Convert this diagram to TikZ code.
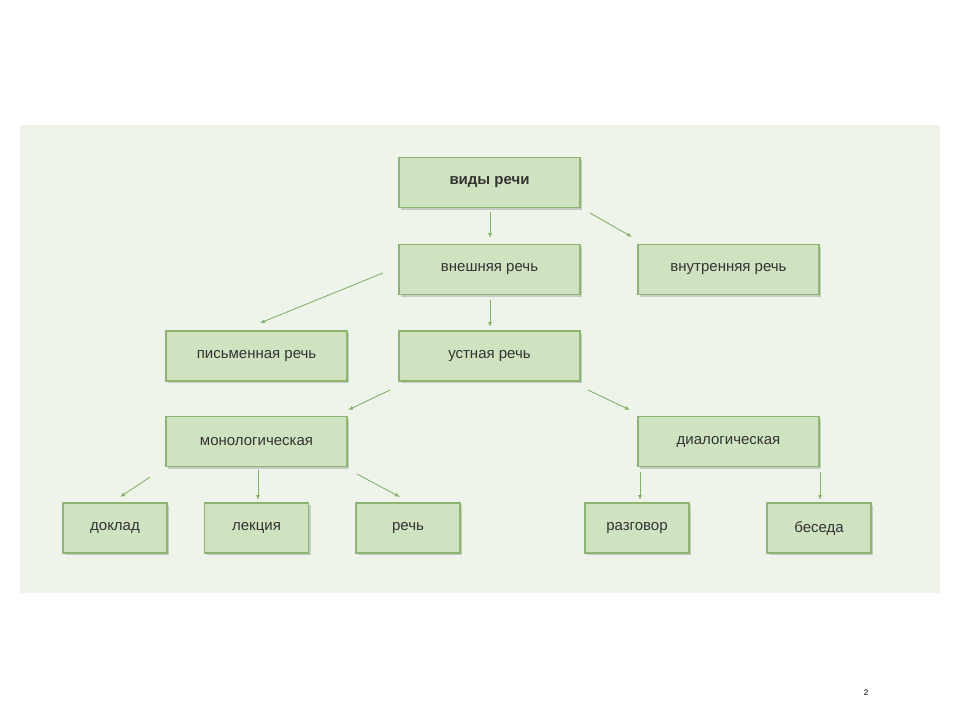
\documentclass[tikz,border=0pt]{standalone}
\usepackage{fontspec}
\setmainfont{Liberation Sans}
\usetikzlibrary{arrows.meta,shadows}
\definecolor{panel}{HTML}{EEF4EA}
\definecolor{boxfill}{HTML}{CFE3C1}
\definecolor{boxline}{HTML}{8DB56F}
\definecolor{arr}{HTML}{86B267}
\tikzset{
 box/.style={draw=boxline,line width=1.2pt,fill=boxfill,minimum height=50pt,font=\fontsize{15}{18}\selectfont,text=black!80,drop shadow={shadow xshift=2pt,shadow yshift=-2pt,opacity=0.35}},
 wide/.style={box,minimum width=181pt},
 narrow/.style={box,minimum width=104pt},
 conn/.style={draw=arr,line width=0.9pt,-{Latex[length=5pt,width=4pt]}}
}
\begin{document}
\begin{tikzpicture}[x=1pt,y=-1pt]
\useasboundingbox (0,0) rectangle (960,720);
\fill[white] (0,0) rectangle (960,720);
\fill[panel] (20,125) rectangle (940,593);
\node[wide,font=\fontsize{15}{18}\selectfont\bfseries] (vr) at (489.5,182.5) {виды речи};
\node[wide] (vn) at (489.5,269.5) {внешняя речь};
\node[wide] (vt) at (728.5,269.5) {внутренняя речь};
\node[wide] (pr) at (256.5,356) {письменная речь};
\node[wide] (ur) at (489.5,356) {устная речь};
\node[wide] (mo) at (256.5,441.5) {монологическая};
\node[wide] (di) at (728.5,441.5) {диалогическая};
\node[narrow] (dk) at (115,528) {доклад};
\node[narrow] (lk) at (256.5,528) {лекция};
\node[narrow] (rc) at (408,528) {речь};
\node[narrow] (rz) at (637,528) {разговор};
\node[narrow] (bs) at (819,528) {беседа};
\node[font=\fontsize{8}{10}\selectfont] (pg) at (866,693) {2};
\coordinate (a1) at (490,212); \coordinate (a2) at (590,213);
\coordinate (a3) at (383,273); \coordinate (a4) at (490,300);
\coordinate (a5) at (390,390); \coordinate (a6) at (588,390);
\coordinate (a7) at (150,477); \coordinate (a8) at (258,470);
\coordinate (a9) at (357,474); \coordinate (a10) at (640,472);
\coordinate (a11) at (820,472);
\draw[conn] (a1) -- (490,238);
\draw[conn] (a2) -- (632,237);
\draw[conn] (a3) -- (260,323);
\draw[conn] (a4) -- (490,327);
\draw[conn] (a5) -- (348,410);
\draw[conn] (a6) -- (630,410);
\draw[conn] (a7) -- (120,497);
\draw[conn] (a8) -- (258,500);
\draw[conn] (a9) -- (400,497);
\draw[conn] (a10) -- (640,500);
\draw[conn] (a11) -- (820,500);
\end{tikzpicture}
\end{document}
